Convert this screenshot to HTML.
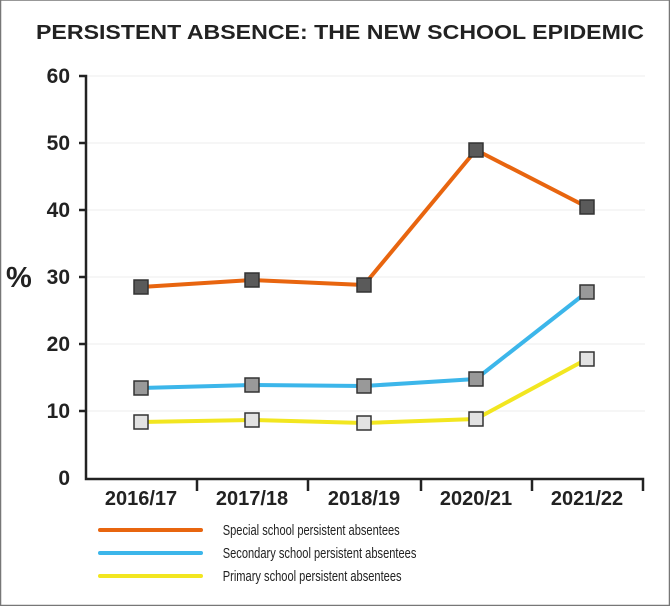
<!DOCTYPE html>
<html><head><style>body{margin:0;background:#fff}svg{display:block}</style></head><body>
<svg width="670" height="606" xmlns="http://www.w3.org/2000/svg" font-family="Liberation Sans, sans-serif">
<rect x="0.5" y="0" width="669" height="605.5" fill="#fff" stroke="#777" stroke-width="1.5"/>
<text x="36" y="39" font-size="20" font-weight="bold" fill="#222" textLength="608" lengthAdjust="spacingAndGlyphs">PERSISTENT ABSENCE: THE NEW SCHOOL EPIDEMIC</text>
<g stroke="#eee" stroke-width="1">
<line x1="86" x2="645" y1="76" y2="76"/><line x1="86" x2="645" y1="143" y2="143"/><line x1="86" x2="645" y1="210" y2="210"/><line x1="86" x2="645" y1="277" y2="277"/><line x1="86" x2="645" y1="344" y2="344"/><line x1="86" x2="645" y1="411" y2="411"/>
</g>
<g stroke="#222" stroke-width="2.5" fill="none">
<path d="M79 76H86V479H643V491"/>
<line x1="79" x2="86" y1="143" y2="143"/><line x1="79" x2="86" y1="210" y2="210"/><line x1="79" x2="86" y1="277" y2="277"/><line x1="79" x2="86" y1="344" y2="344"/><line x1="79" x2="86" y1="411" y2="411"/>
<line x1="197" x2="197" y1="479" y2="491"/><line x1="308" x2="308" y1="479" y2="491"/><line x1="421" x2="421" y1="479" y2="491"/><line x1="532" x2="532" y1="479" y2="491"/>
</g>
<g font-size="21" font-weight="bold" fill="#222" text-anchor="end">
<text x="70" y="83">60</text><text x="70" y="150">50</text><text x="70" y="217">40</text><text x="70" y="284">30</text><text x="70" y="351">20</text><text x="70" y="418">10</text><text x="70" y="485">0</text>
</g>
<text x="6" y="287" font-size="29" font-weight="bold" fill="#222">%</text>
<g font-size="20" font-weight="bold" fill="#222" text-anchor="middle">
<text x="141" y="505">2016/17</text><text x="252" y="505">2017/18</text><text x="364" y="505">2018/19</text><text x="476" y="505">2020/21</text><text x="587" y="505">2021/22</text>
</g>
<g fill="none" stroke-width="4" stroke-linejoin="round">
<polyline stroke="#e8650f" points="141,287 252,280 364,285 476,150 587,207"/>
<polyline stroke="#3cb6ea" points="141,388 252,385 364,386 476,379 587,292"/>
<polyline stroke="#f2e620" points="141,422 252,420 364,423 476,419 587,359"/>
</g>
<g stroke="#333" stroke-width="1.5">
<g fill="#5a5a5a"><rect x="134" y="280" width="14" height="14"/><rect x="245" y="273" width="14" height="14"/><rect x="357" y="278" width="14" height="14"/><rect x="469" y="143" width="14" height="14"/><rect x="580" y="200" width="14" height="14"/></g>
<g fill="#999"><rect x="134" y="381" width="14" height="14"/><rect x="245" y="378" width="14" height="14"/><rect x="357" y="379" width="14" height="14"/><rect x="469" y="372" width="14" height="14"/><rect x="580" y="285" width="14" height="14"/></g>
<g fill="#e2e2e2"><rect x="134" y="415" width="14" height="14"/><rect x="245" y="413" width="14" height="14"/><rect x="357" y="416" width="14" height="14"/><rect x="469" y="412" width="14" height="14"/><rect x="580" y="352" width="14" height="14"/></g>
</g>
<g stroke-width="4" stroke-linecap="round">
<line x1="100" x2="201" y1="530" y2="530" stroke="#e8650f"/>
<line x1="100" x2="201" y1="553" y2="553" stroke="#3cb6ea"/>
<line x1="100" x2="201" y1="576" y2="576" stroke="#f2e620"/>
</g>
<g font-size="15" fill="#222" transform="scale(0.74,1)">
<text x="301" y="535">Special school persistent absentees</text>
<text x="301" y="558">Secondary school persistent absentees</text>
<text x="301" y="581">Primary school persistent absentees</text>
</g>
</svg>
</body></html>
